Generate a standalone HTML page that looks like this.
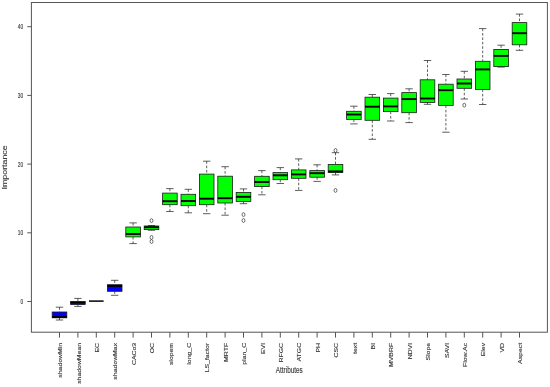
<!DOCTYPE html>
<html><head><meta charset="utf-8"><title>Boxplot</title>
<style>
html,body{margin:0;padding:0;background:#fff;}
body{width:550px;height:387px;overflow:hidden;}
svg text{font-family:"Liberation Sans",sans-serif;stroke:#3a3a3a;stroke-width:0.15px;}
</style></head><body>
<svg width="550" height="387" viewBox="0 0 550 387" style="display:block">
<rect x="0" y="0" width="550" height="387" fill="#fff"/>
<rect x="31.4" y="2.5" width="516.0" height="329.7" fill="none" stroke="#555" stroke-width="1"/>
<line x1="27.3" x2="31.4" y1="301.5" y2="301.5" stroke="#555" stroke-width="1"/>
<text x="23.2" y="304.2" text-anchor="end" font-size="7.5" fill="#3a3a3a" transform="translate(23.2 0) scale(0.64 1) translate(-23.2 0)">0</text>
<line x1="27.3" x2="31.4" y1="232.8" y2="232.8" stroke="#555" stroke-width="1"/>
<text x="23.2" y="235.5" text-anchor="end" font-size="7.5" fill="#3a3a3a" transform="translate(23.2 0) scale(0.64 1) translate(-23.2 0)">10</text>
<line x1="27.3" x2="31.4" y1="164.1" y2="164.1" stroke="#555" stroke-width="1"/>
<text x="23.2" y="166.79999999999998" text-anchor="end" font-size="7.5" fill="#3a3a3a" transform="translate(23.2 0) scale(0.64 1) translate(-23.2 0)">20</text>
<line x1="27.3" x2="31.4" y1="95.4" y2="95.4" stroke="#555" stroke-width="1"/>
<text x="23.2" y="98.10000000000001" text-anchor="end" font-size="7.5" fill="#3a3a3a" transform="translate(23.2 0) scale(0.64 1) translate(-23.2 0)">30</text>
<line x1="27.3" x2="31.4" y1="26.7" y2="26.7" stroke="#555" stroke-width="1"/>
<text x="23.2" y="29.4" text-anchor="end" font-size="7.5" fill="#3a3a3a" transform="translate(23.2 0) scale(0.64 1) translate(-23.2 0)">40</text>
<line x1="59.5" x2="59.5" y1="332.2" y2="337.6" stroke="#555" stroke-width="1"/>
<text transform="translate(62.1 342.9) scale(0.9 1) rotate(-90)" text-anchor="end" font-size="6.9" fill="#3a3a3a">shadowMin</text>
<line x1="77.9" x2="77.9" y1="332.2" y2="337.6" stroke="#555" stroke-width="1"/>
<text transform="translate(80.5 342.9) scale(0.9 1) rotate(-90)" text-anchor="end" font-size="6.9" fill="#3a3a3a">shadowMean</text>
<line x1="96.3" x2="96.3" y1="332.2" y2="337.6" stroke="#555" stroke-width="1"/>
<text transform="translate(98.9 342.9) scale(0.9 1) rotate(-90)" text-anchor="end" font-size="6.9" fill="#3a3a3a">EC</text>
<line x1="114.7" x2="114.7" y1="332.2" y2="337.6" stroke="#555" stroke-width="1"/>
<text transform="translate(117.3 342.9) scale(0.9 1) rotate(-90)" text-anchor="end" font-size="6.9" fill="#3a3a3a">shadowMax</text>
<line x1="133.1" x2="133.1" y1="332.2" y2="337.6" stroke="#555" stroke-width="1"/>
<text transform="translate(135.7 342.9) scale(0.9 1) rotate(-90)" text-anchor="end" font-size="6.9" fill="#3a3a3a">CACo3</text>
<line x1="151.5" x2="151.5" y1="332.2" y2="337.6" stroke="#555" stroke-width="1"/>
<text transform="translate(154.1 342.9) scale(0.9 1) rotate(-90)" text-anchor="end" font-size="6.9" fill="#3a3a3a">OC</text>
<line x1="169.9" x2="169.9" y1="332.2" y2="337.6" stroke="#555" stroke-width="1"/>
<text transform="translate(172.5 342.9) scale(0.9 1) rotate(-90)" text-anchor="end" font-size="6.9" fill="#3a3a3a">slopem</text>
<line x1="188.3" x2="188.3" y1="332.2" y2="337.6" stroke="#555" stroke-width="1"/>
<text transform="translate(190.9 342.9) scale(0.9 1) rotate(-90)" text-anchor="end" font-size="6.9" fill="#3a3a3a">long_C</text>
<line x1="206.7" x2="206.7" y1="332.2" y2="337.6" stroke="#555" stroke-width="1"/>
<text transform="translate(209.3 342.9) scale(0.9 1) rotate(-90)" text-anchor="end" font-size="6.9" fill="#3a3a3a">LS_factor</text>
<line x1="225.1" x2="225.1" y1="332.2" y2="337.6" stroke="#555" stroke-width="1"/>
<text transform="translate(227.7 342.9) scale(0.9 1) rotate(-90)" text-anchor="end" font-size="6.9" fill="#3a3a3a">MRTF</text>
<line x1="243.5" x2="243.5" y1="332.2" y2="337.6" stroke="#555" stroke-width="1"/>
<text transform="translate(246.1 342.9) scale(0.9 1) rotate(-90)" text-anchor="end" font-size="6.9" fill="#3a3a3a">plan_C</text>
<line x1="261.9" x2="261.9" y1="332.2" y2="337.6" stroke="#555" stroke-width="1"/>
<text transform="translate(264.5 342.9) scale(0.9 1) rotate(-90)" text-anchor="end" font-size="6.9" fill="#3a3a3a">EVI</text>
<line x1="280.3" x2="280.3" y1="332.2" y2="337.6" stroke="#555" stroke-width="1"/>
<text transform="translate(282.9 342.9) scale(0.9 1) rotate(-90)" text-anchor="end" font-size="6.9" fill="#3a3a3a">RFGC</text>
<line x1="298.7" x2="298.7" y1="332.2" y2="337.6" stroke="#555" stroke-width="1"/>
<text transform="translate(301.3 342.9) scale(0.9 1) rotate(-90)" text-anchor="end" font-size="6.9" fill="#3a3a3a">ATGC</text>
<line x1="317.1" x2="317.1" y1="332.2" y2="337.6" stroke="#555" stroke-width="1"/>
<text transform="translate(319.7 342.9) scale(0.9 1) rotate(-90)" text-anchor="end" font-size="6.9" fill="#3a3a3a">PH</text>
<line x1="335.5" x2="335.5" y1="332.2" y2="337.6" stroke="#555" stroke-width="1"/>
<text transform="translate(338.1 342.9) scale(0.9 1) rotate(-90)" text-anchor="end" font-size="6.9" fill="#3a3a3a">CSC</text>
<line x1="353.9" x2="353.9" y1="332.2" y2="337.6" stroke="#555" stroke-width="1"/>
<text transform="translate(356.5 342.9) scale(0.9 1) rotate(-90)" text-anchor="end" font-size="6.9" fill="#3a3a3a">text</text>
<line x1="372.3" x2="372.3" y1="332.2" y2="337.6" stroke="#555" stroke-width="1"/>
<text transform="translate(374.9 342.9) scale(0.9 1) rotate(-90)" text-anchor="end" font-size="6.9" fill="#3a3a3a">BI</text>
<line x1="390.7" x2="390.7" y1="332.2" y2="337.6" stroke="#555" stroke-width="1"/>
<text transform="translate(393.3 342.9) scale(0.9 1) rotate(-90)" text-anchor="end" font-size="6.9" fill="#3a3a3a">MVBRF</text>
<line x1="409.1" x2="409.1" y1="332.2" y2="337.6" stroke="#555" stroke-width="1"/>
<text transform="translate(411.7 342.9) scale(0.9 1) rotate(-90)" text-anchor="end" font-size="6.9" fill="#3a3a3a">NDVI</text>
<line x1="427.5" x2="427.5" y1="332.2" y2="337.6" stroke="#555" stroke-width="1"/>
<text transform="translate(430.1 342.9) scale(0.9 1) rotate(-90)" text-anchor="end" font-size="6.9" fill="#3a3a3a">Slope</text>
<line x1="445.9" x2="445.9" y1="332.2" y2="337.6" stroke="#555" stroke-width="1"/>
<text transform="translate(448.5 342.9) scale(0.9 1) rotate(-90)" text-anchor="end" font-size="6.9" fill="#3a3a3a">SAVI</text>
<line x1="464.3" x2="464.3" y1="332.2" y2="337.6" stroke="#555" stroke-width="1"/>
<text transform="translate(466.9 342.9) scale(0.9 1) rotate(-90)" text-anchor="end" font-size="6.9" fill="#3a3a3a">Flow.Ac</text>
<line x1="482.7" x2="482.7" y1="332.2" y2="337.6" stroke="#555" stroke-width="1"/>
<text transform="translate(485.3 342.9) scale(0.9 1) rotate(-90)" text-anchor="end" font-size="6.9" fill="#3a3a3a">Elev</text>
<line x1="501.1" x2="501.1" y1="332.2" y2="337.6" stroke="#555" stroke-width="1"/>
<text transform="translate(503.7 342.9) scale(0.9 1) rotate(-90)" text-anchor="end" font-size="6.9" fill="#3a3a3a">VD</text>
<line x1="519.5" x2="519.5" y1="332.2" y2="337.6" stroke="#555" stroke-width="1"/>
<text transform="translate(522.1 342.9) scale(0.9 1) rotate(-90)" text-anchor="end" font-size="6.9" fill="#3a3a3a">Aspect</text>
<text transform="translate(289.3 373) scale(0.71 1)" text-anchor="middle" font-size="9" fill="#3a3a3a">Attributes</text>
<text transform="translate(6.8 167.4) scale(0.75 1) rotate(-90)" text-anchor="middle" font-size="8.85" fill="#3a3a3a">Importance</text>
<line x1="59.5" x2="59.5" y1="307.2" y2="312.0" stroke="#2a2a2a" stroke-width="0.75" stroke-dasharray="2.6 1.8"/>
<line x1="59.5" x2="59.5" y1="317.8" y2="320" stroke="#2a2a2a" stroke-width="0.75" stroke-dasharray="2.6 1.8"/>
<line x1="55.8" x2="63.2" y1="307.2" y2="307.2" stroke="#2a2a2a" stroke-width="0.75"/>
<line x1="55.8" x2="63.2" y1="320" y2="320" stroke="#2a2a2a" stroke-width="0.75"/>
<rect x="52.2" y="312.0" width="14.6" height="5.8" fill="#0000ff" stroke="#1a1a1a" stroke-width="0.8"/>
<line x1="52.2" x2="66.8" y1="316.9" y2="316.9" stroke="#000" stroke-width="1.9"/>
<line x1="77.9" x2="77.9" y1="298.4" y2="301.4" stroke="#2a2a2a" stroke-width="0.75" stroke-dasharray="2.6 1.8"/>
<line x1="77.9" x2="77.9" y1="304.5" y2="306.4" stroke="#2a2a2a" stroke-width="0.75" stroke-dasharray="2.6 1.8"/>
<line x1="74.2" x2="81.6" y1="298.4" y2="298.4" stroke="#2a2a2a" stroke-width="0.75"/>
<line x1="74.2" x2="81.6" y1="306.4" y2="306.4" stroke="#2a2a2a" stroke-width="0.75"/>
<rect x="70.6" y="301.4" width="14.6" height="3.1" fill="#0000ff" stroke="#1a1a1a" stroke-width="0.8"/>
<line x1="70.6" x2="85.2" y1="302.6" y2="302.6" stroke="#000" stroke-width="1.5"/>
<line x1="89.0" x2="103.6" y1="301.1" y2="301.1" stroke="#000" stroke-width="1.5"/>
<line x1="114.7" x2="114.7" y1="280.3" y2="284.7" stroke="#2a2a2a" stroke-width="0.75" stroke-dasharray="2.6 1.8"/>
<line x1="114.7" x2="114.7" y1="291.3" y2="295.3" stroke="#2a2a2a" stroke-width="0.75" stroke-dasharray="2.6 1.8"/>
<line x1="111.0" x2="118.4" y1="280.3" y2="280.3" stroke="#2a2a2a" stroke-width="0.75"/>
<line x1="111.0" x2="118.4" y1="295.3" y2="295.3" stroke="#2a2a2a" stroke-width="0.75"/>
<rect x="107.4" y="284.7" width="14.6" height="6.6" fill="#0000ff" stroke="#1a1a1a" stroke-width="0.8"/>
<line x1="107.4" x2="122.0" y1="286" y2="286" stroke="#000" stroke-width="1.9"/>
<line x1="133.1" x2="133.1" y1="222.9" y2="227.0" stroke="#2a2a2a" stroke-width="0.75" stroke-dasharray="2.6 1.8"/>
<line x1="133.1" x2="133.1" y1="236.9" y2="243.6" stroke="#2a2a2a" stroke-width="0.75" stroke-dasharray="2.6 1.8"/>
<line x1="129.4" x2="136.8" y1="222.9" y2="222.9" stroke="#2a2a2a" stroke-width="0.75"/>
<line x1="129.4" x2="136.8" y1="243.6" y2="243.6" stroke="#2a2a2a" stroke-width="0.75"/>
<rect x="125.8" y="227.0" width="14.6" height="9.9" fill="#00ff00" stroke="#1a1a1a" stroke-width="0.8"/>
<line x1="125.8" x2="140.4" y1="234" y2="234" stroke="#000" stroke-width="1.9"/>
<line x1="151.5" x2="151.5" y1="225.5" y2="226" stroke="#2a2a2a" stroke-width="0.75" stroke-dasharray="2.6 1.8"/>
<line x1="151.5" x2="151.5" y1="229.6" y2="230.3" stroke="#2a2a2a" stroke-width="0.75" stroke-dasharray="2.6 1.8"/>
<line x1="147.8" x2="155.2" y1="225.5" y2="225.5" stroke="#2a2a2a" stroke-width="0.75"/>
<line x1="147.8" x2="155.2" y1="230.3" y2="230.3" stroke="#2a2a2a" stroke-width="0.75"/>
<rect x="144.2" y="226" width="14.6" height="3.6" fill="#00ff00" stroke="#1a1a1a" stroke-width="0.8"/>
<line x1="144.2" x2="158.8" y1="227.2" y2="227.2" stroke="#000" stroke-width="1.9"/>
<ellipse cx="151.5" cy="220.6" rx="1.45" ry="1.95" fill="none" stroke="#333" stroke-width="0.7"/>
<ellipse cx="151.5" cy="237.4" rx="1.45" ry="1.95" fill="none" stroke="#333" stroke-width="0.7"/>
<ellipse cx="151.5" cy="241.5" rx="1.45" ry="1.95" fill="none" stroke="#333" stroke-width="0.7"/>
<line x1="169.9" x2="169.9" y1="188.6" y2="193.1" stroke="#2a2a2a" stroke-width="0.75" stroke-dasharray="2.6 1.8"/>
<line x1="169.9" x2="169.9" y1="204.7" y2="211.5" stroke="#2a2a2a" stroke-width="0.75" stroke-dasharray="2.6 1.8"/>
<line x1="166.2" x2="173.6" y1="188.6" y2="188.6" stroke="#2a2a2a" stroke-width="0.75"/>
<line x1="166.2" x2="173.6" y1="211.5" y2="211.5" stroke="#2a2a2a" stroke-width="0.75"/>
<rect x="162.6" y="193.1" width="14.6" height="11.6" fill="#00ff00" stroke="#1a1a1a" stroke-width="0.8"/>
<line x1="162.6" x2="177.2" y1="201.2" y2="201.2" stroke="#000" stroke-width="1.9"/>
<line x1="188.3" x2="188.3" y1="189.3" y2="194.3" stroke="#2a2a2a" stroke-width="0.75" stroke-dasharray="2.6 1.8"/>
<line x1="188.3" x2="188.3" y1="205.7" y2="212.8" stroke="#2a2a2a" stroke-width="0.75" stroke-dasharray="2.6 1.8"/>
<line x1="184.6" x2="192.0" y1="189.3" y2="189.3" stroke="#2a2a2a" stroke-width="0.75"/>
<line x1="184.6" x2="192.0" y1="212.8" y2="212.8" stroke="#2a2a2a" stroke-width="0.75"/>
<rect x="181.0" y="194.3" width="14.6" height="11.4" fill="#00ff00" stroke="#1a1a1a" stroke-width="0.8"/>
<line x1="181.0" x2="195.6" y1="201" y2="201" stroke="#000" stroke-width="1.9"/>
<line x1="206.7" x2="206.7" y1="161.2" y2="174.1" stroke="#2a2a2a" stroke-width="0.75" stroke-dasharray="2.6 1.8"/>
<line x1="206.7" x2="206.7" y1="204.7" y2="213.7" stroke="#2a2a2a" stroke-width="0.75" stroke-dasharray="2.6 1.8"/>
<line x1="203.0" x2="210.4" y1="161.2" y2="161.2" stroke="#2a2a2a" stroke-width="0.75"/>
<line x1="203.0" x2="210.4" y1="213.7" y2="213.7" stroke="#2a2a2a" stroke-width="0.75"/>
<rect x="199.4" y="174.1" width="14.6" height="30.6" fill="#00ff00" stroke="#1a1a1a" stroke-width="0.8"/>
<line x1="199.4" x2="214.0" y1="198.7" y2="198.7" stroke="#000" stroke-width="1.9"/>
<line x1="225.1" x2="225.1" y1="166.7" y2="176.2" stroke="#2a2a2a" stroke-width="0.75" stroke-dasharray="2.6 1.8"/>
<line x1="225.1" x2="225.1" y1="203" y2="215.2" stroke="#2a2a2a" stroke-width="0.75" stroke-dasharray="2.6 1.8"/>
<line x1="221.4" x2="228.8" y1="166.7" y2="166.7" stroke="#2a2a2a" stroke-width="0.75"/>
<line x1="221.4" x2="228.8" y1="215.2" y2="215.2" stroke="#2a2a2a" stroke-width="0.75"/>
<rect x="217.8" y="176.2" width="14.6" height="26.8" fill="#00ff00" stroke="#1a1a1a" stroke-width="0.8"/>
<line x1="217.8" x2="232.4" y1="198.2" y2="198.2" stroke="#000" stroke-width="1.9"/>
<line x1="243.5" x2="243.5" y1="188.9" y2="192.4" stroke="#2a2a2a" stroke-width="0.75" stroke-dasharray="2.6 1.8"/>
<line x1="243.5" x2="243.5" y1="201.5" y2="203.7" stroke="#2a2a2a" stroke-width="0.75" stroke-dasharray="2.6 1.8"/>
<line x1="239.8" x2="247.2" y1="188.9" y2="188.9" stroke="#2a2a2a" stroke-width="0.75"/>
<line x1="239.8" x2="247.2" y1="203.7" y2="203.7" stroke="#2a2a2a" stroke-width="0.75"/>
<rect x="236.2" y="192.4" width="14.6" height="9.1" fill="#00ff00" stroke="#1a1a1a" stroke-width="0.8"/>
<line x1="236.2" x2="250.8" y1="196.8" y2="196.8" stroke="#000" stroke-width="1.9"/>
<ellipse cx="243.5" cy="214.6" rx="1.45" ry="1.95" fill="none" stroke="#333" stroke-width="0.7"/>
<ellipse cx="243.5" cy="220.5" rx="1.45" ry="1.95" fill="none" stroke="#333" stroke-width="0.7"/>
<line x1="261.9" x2="261.9" y1="170.6" y2="176.3" stroke="#2a2a2a" stroke-width="0.75" stroke-dasharray="2.6 1.8"/>
<line x1="261.9" x2="261.9" y1="186.6" y2="194.8" stroke="#2a2a2a" stroke-width="0.75" stroke-dasharray="2.6 1.8"/>
<line x1="258.2" x2="265.6" y1="170.6" y2="170.6" stroke="#2a2a2a" stroke-width="0.75"/>
<line x1="258.2" x2="265.6" y1="194.8" y2="194.8" stroke="#2a2a2a" stroke-width="0.75"/>
<rect x="254.6" y="176.3" width="14.6" height="10.3" fill="#00ff00" stroke="#1a1a1a" stroke-width="0.8"/>
<line x1="254.6" x2="269.2" y1="182" y2="182" stroke="#000" stroke-width="1.9"/>
<line x1="280.3" x2="280.3" y1="167.6" y2="172.6" stroke="#2a2a2a" stroke-width="0.75" stroke-dasharray="2.6 1.8"/>
<line x1="280.3" x2="280.3" y1="179.7" y2="183.5" stroke="#2a2a2a" stroke-width="0.75" stroke-dasharray="2.6 1.8"/>
<line x1="276.6" x2="284.0" y1="167.6" y2="167.6" stroke="#2a2a2a" stroke-width="0.75"/>
<line x1="276.6" x2="284.0" y1="183.5" y2="183.5" stroke="#2a2a2a" stroke-width="0.75"/>
<rect x="273.0" y="172.6" width="14.6" height="7.1" fill="#00ff00" stroke="#1a1a1a" stroke-width="0.8"/>
<line x1="273.0" x2="287.6" y1="175.3" y2="175.3" stroke="#000" stroke-width="1.9"/>
<line x1="298.7" x2="298.7" y1="158.9" y2="169.9" stroke="#2a2a2a" stroke-width="0.75" stroke-dasharray="2.6 1.8"/>
<line x1="298.7" x2="298.7" y1="178.3" y2="190.4" stroke="#2a2a2a" stroke-width="0.75" stroke-dasharray="2.6 1.8"/>
<line x1="295.0" x2="302.4" y1="158.9" y2="158.9" stroke="#2a2a2a" stroke-width="0.75"/>
<line x1="295.0" x2="302.4" y1="190.4" y2="190.4" stroke="#2a2a2a" stroke-width="0.75"/>
<rect x="291.4" y="169.9" width="14.6" height="8.4" fill="#00ff00" stroke="#1a1a1a" stroke-width="0.8"/>
<line x1="291.4" x2="306.0" y1="174.4" y2="174.4" stroke="#000" stroke-width="1.9"/>
<line x1="317.1" x2="317.1" y1="164.8" y2="170.6" stroke="#2a2a2a" stroke-width="0.75" stroke-dasharray="2.6 1.8"/>
<line x1="317.1" x2="317.1" y1="177.2" y2="181.4" stroke="#2a2a2a" stroke-width="0.75" stroke-dasharray="2.6 1.8"/>
<line x1="313.4" x2="320.8" y1="164.8" y2="164.8" stroke="#2a2a2a" stroke-width="0.75"/>
<line x1="313.4" x2="320.8" y1="181.4" y2="181.4" stroke="#2a2a2a" stroke-width="0.75"/>
<rect x="309.8" y="170.6" width="14.6" height="6.6" fill="#00ff00" stroke="#1a1a1a" stroke-width="0.8"/>
<line x1="309.8" x2="324.4" y1="173.2" y2="173.2" stroke="#000" stroke-width="1.9"/>
<line x1="335.5" x2="335.5" y1="152.7" y2="164.4" stroke="#2a2a2a" stroke-width="0.75" stroke-dasharray="2.6 1.8"/>
<line x1="335.5" x2="335.5" y1="172.6" y2="174.9" stroke="#2a2a2a" stroke-width="0.75" stroke-dasharray="2.6 1.8"/>
<line x1="331.8" x2="339.2" y1="152.7" y2="152.7" stroke="#2a2a2a" stroke-width="0.75"/>
<line x1="331.8" x2="339.2" y1="174.9" y2="174.9" stroke="#2a2a2a" stroke-width="0.75"/>
<rect x="328.2" y="164.4" width="14.6" height="8.2" fill="#00ff00" stroke="#1a1a1a" stroke-width="0.8"/>
<line x1="328.2" x2="342.8" y1="171.4" y2="171.4" stroke="#000" stroke-width="1.9"/>
<ellipse cx="335.5" cy="150.5" rx="1.45" ry="1.95" fill="none" stroke="#333" stroke-width="0.7"/>
<ellipse cx="335.5" cy="190.4" rx="1.45" ry="1.95" fill="none" stroke="#333" stroke-width="0.7"/>
<line x1="353.9" x2="353.9" y1="106.2" y2="111.3" stroke="#2a2a2a" stroke-width="0.75" stroke-dasharray="2.6 1.8"/>
<line x1="353.9" x2="353.9" y1="119.4" y2="123.9" stroke="#2a2a2a" stroke-width="0.75" stroke-dasharray="2.6 1.8"/>
<line x1="350.2" x2="357.6" y1="106.2" y2="106.2" stroke="#2a2a2a" stroke-width="0.75"/>
<line x1="350.2" x2="357.6" y1="123.9" y2="123.9" stroke="#2a2a2a" stroke-width="0.75"/>
<rect x="346.6" y="111.3" width="14.6" height="8.1" fill="#00ff00" stroke="#1a1a1a" stroke-width="0.8"/>
<line x1="346.6" x2="361.2" y1="114.5" y2="114.5" stroke="#000" stroke-width="1.9"/>
<line x1="372.3" x2="372.3" y1="94.5" y2="97.2" stroke="#2a2a2a" stroke-width="0.75" stroke-dasharray="2.6 1.8"/>
<line x1="372.3" x2="372.3" y1="120.3" y2="139.3" stroke="#2a2a2a" stroke-width="0.75" stroke-dasharray="2.6 1.8"/>
<line x1="368.6" x2="376.0" y1="94.5" y2="94.5" stroke="#2a2a2a" stroke-width="0.75"/>
<line x1="368.6" x2="376.0" y1="139.3" y2="139.3" stroke="#2a2a2a" stroke-width="0.75"/>
<rect x="365.0" y="97.2" width="14.6" height="23.1" fill="#00ff00" stroke="#1a1a1a" stroke-width="0.8"/>
<line x1="365.0" x2="379.6" y1="106.7" y2="106.7" stroke="#000" stroke-width="1.9"/>
<line x1="390.7" x2="390.7" y1="93.6" y2="98.1" stroke="#2a2a2a" stroke-width="0.75" stroke-dasharray="2.6 1.8"/>
<line x1="390.7" x2="390.7" y1="111.6" y2="121" stroke="#2a2a2a" stroke-width="0.75" stroke-dasharray="2.6 1.8"/>
<line x1="387.0" x2="394.4" y1="93.6" y2="93.6" stroke="#2a2a2a" stroke-width="0.75"/>
<line x1="387.0" x2="394.4" y1="121" y2="121" stroke="#2a2a2a" stroke-width="0.75"/>
<rect x="383.4" y="98.1" width="14.6" height="13.5" fill="#00ff00" stroke="#1a1a1a" stroke-width="0.8"/>
<line x1="383.4" x2="398.0" y1="106.4" y2="106.4" stroke="#000" stroke-width="1.9"/>
<line x1="409.1" x2="409.1" y1="88.8" y2="92.6" stroke="#2a2a2a" stroke-width="0.75" stroke-dasharray="2.6 1.8"/>
<line x1="409.1" x2="409.1" y1="112.7" y2="122.6" stroke="#2a2a2a" stroke-width="0.75" stroke-dasharray="2.6 1.8"/>
<line x1="405.4" x2="412.8" y1="88.8" y2="88.8" stroke="#2a2a2a" stroke-width="0.75"/>
<line x1="405.4" x2="412.8" y1="122.6" y2="122.6" stroke="#2a2a2a" stroke-width="0.75"/>
<rect x="401.8" y="92.6" width="14.6" height="20.1" fill="#00ff00" stroke="#1a1a1a" stroke-width="0.8"/>
<line x1="401.8" x2="416.4" y1="99.1" y2="99.1" stroke="#000" stroke-width="1.9"/>
<line x1="427.5" x2="427.5" y1="60.5" y2="79.8" stroke="#2a2a2a" stroke-width="0.75" stroke-dasharray="2.6 1.8"/>
<line x1="427.5" x2="427.5" y1="102.4" y2="104.3" stroke="#2a2a2a" stroke-width="0.75" stroke-dasharray="2.6 1.8"/>
<line x1="423.8" x2="431.2" y1="60.5" y2="60.5" stroke="#2a2a2a" stroke-width="0.75"/>
<line x1="423.8" x2="431.2" y1="104.3" y2="104.3" stroke="#2a2a2a" stroke-width="0.75"/>
<rect x="420.2" y="79.8" width="14.6" height="22.6" fill="#00ff00" stroke="#1a1a1a" stroke-width="0.8"/>
<line x1="420.2" x2="434.8" y1="98.5" y2="98.5" stroke="#000" stroke-width="1.9"/>
<line x1="445.9" x2="445.9" y1="74.5" y2="84.2" stroke="#2a2a2a" stroke-width="0.75" stroke-dasharray="2.6 1.8"/>
<line x1="445.9" x2="445.9" y1="105.4" y2="132.2" stroke="#2a2a2a" stroke-width="0.75" stroke-dasharray="2.6 1.8"/>
<line x1="442.2" x2="449.6" y1="74.5" y2="74.5" stroke="#2a2a2a" stroke-width="0.75"/>
<line x1="442.2" x2="449.6" y1="132.2" y2="132.2" stroke="#2a2a2a" stroke-width="0.75"/>
<rect x="438.6" y="84.2" width="14.6" height="21.2" fill="#00ff00" stroke="#1a1a1a" stroke-width="0.8"/>
<line x1="438.6" x2="453.2" y1="90.2" y2="90.2" stroke="#000" stroke-width="1.9"/>
<line x1="464.3" x2="464.3" y1="71.3" y2="79" stroke="#2a2a2a" stroke-width="0.75" stroke-dasharray="2.6 1.8"/>
<line x1="464.3" x2="464.3" y1="88.3" y2="99" stroke="#2a2a2a" stroke-width="0.75" stroke-dasharray="2.6 1.8"/>
<line x1="460.6" x2="468.0" y1="71.3" y2="71.3" stroke="#2a2a2a" stroke-width="0.75"/>
<line x1="460.6" x2="468.0" y1="99" y2="99" stroke="#2a2a2a" stroke-width="0.75"/>
<rect x="457.0" y="79" width="14.6" height="9.3" fill="#00ff00" stroke="#1a1a1a" stroke-width="0.8"/>
<line x1="457.0" x2="471.6" y1="83.5" y2="83.5" stroke="#000" stroke-width="1.9"/>
<ellipse cx="464.3" cy="105.2" rx="1.45" ry="1.95" fill="none" stroke="#333" stroke-width="0.7"/>
<line x1="482.7" x2="482.7" y1="28.6" y2="61.3" stroke="#2a2a2a" stroke-width="0.75" stroke-dasharray="2.6 1.8"/>
<line x1="482.7" x2="482.7" y1="89.4" y2="104.5" stroke="#2a2a2a" stroke-width="0.75" stroke-dasharray="2.6 1.8"/>
<line x1="479.0" x2="486.4" y1="28.6" y2="28.6" stroke="#2a2a2a" stroke-width="0.75"/>
<line x1="479.0" x2="486.4" y1="104.5" y2="104.5" stroke="#2a2a2a" stroke-width="0.75"/>
<rect x="475.4" y="61.3" width="14.6" height="28.1" fill="#00ff00" stroke="#1a1a1a" stroke-width="0.8"/>
<line x1="475.4" x2="490.0" y1="69.4" y2="69.4" stroke="#000" stroke-width="1.9"/>
<line x1="501.1" x2="501.1" y1="45.2" y2="49.4" stroke="#2a2a2a" stroke-width="0.75" stroke-dasharray="2.6 1.8"/>
<line x1="501.1" x2="501.1" y1="66.6" y2="67.1" stroke="#2a2a2a" stroke-width="0.75" stroke-dasharray="2.6 1.8"/>
<line x1="497.4" x2="504.8" y1="45.2" y2="45.2" stroke="#2a2a2a" stroke-width="0.75"/>
<line x1="497.4" x2="504.8" y1="67.1" y2="67.1" stroke="#2a2a2a" stroke-width="0.75"/>
<rect x="493.8" y="49.4" width="14.6" height="17.2" fill="#00ff00" stroke="#1a1a1a" stroke-width="0.8"/>
<line x1="493.8" x2="508.4" y1="55.9" y2="55.9" stroke="#000" stroke-width="1.9"/>
<line x1="519.5" x2="519.5" y1="14.1" y2="22.6" stroke="#2a2a2a" stroke-width="0.75" stroke-dasharray="2.6 1.8"/>
<line x1="519.5" x2="519.5" y1="44.8" y2="50.3" stroke="#2a2a2a" stroke-width="0.75" stroke-dasharray="2.6 1.8"/>
<line x1="515.8" x2="523.2" y1="14.1" y2="14.1" stroke="#2a2a2a" stroke-width="0.75"/>
<line x1="515.8" x2="523.2" y1="50.3" y2="50.3" stroke="#2a2a2a" stroke-width="0.75"/>
<rect x="512.2" y="22.6" width="14.6" height="22.2" fill="#00ff00" stroke="#1a1a1a" stroke-width="0.8"/>
<line x1="512.2" x2="526.8" y1="33.2" y2="33.2" stroke="#000" stroke-width="1.9"/>
</svg>
</body></html>
